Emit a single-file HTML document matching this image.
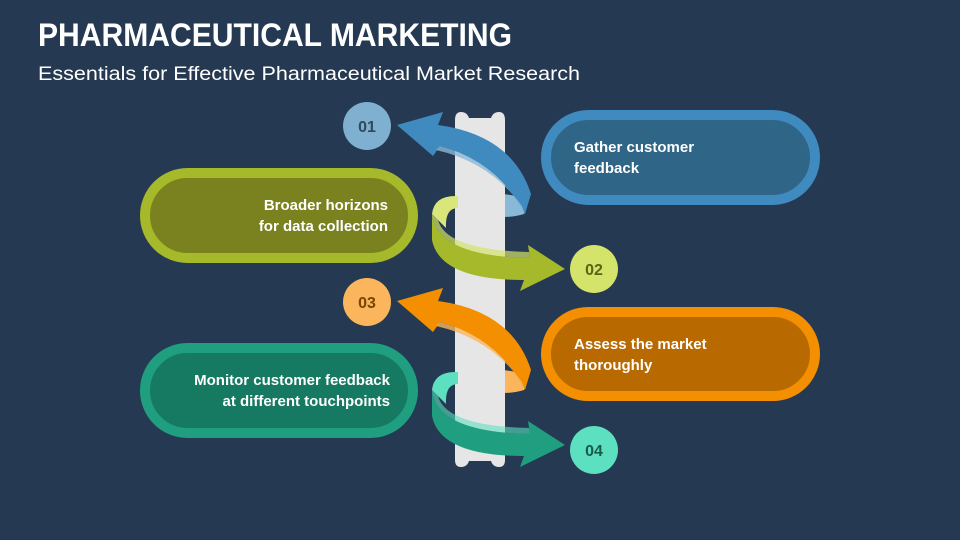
<!DOCTYPE html>
<html><head><meta charset="utf-8"><style>
html,body{margin:0;padding:0;background:#253a52;}
svg{display:block}
text{font-family:"Liberation Sans",sans-serif;}
</style></head><body>
<svg width="960" height="540" viewBox="0 0 960 540">
<rect width="960" height="540" fill="#253a52"/>
<text x="38" y="46" font-size="32" font-weight="bold" fill="#fff" textLength="474" lengthAdjust="spacingAndGlyphs">PHARMACEUTICAL MARKETING</text>
<text x="38" y="80" font-size="19" fill="#fff" textLength="542" lengthAdjust="spacingAndGlyphs">Essentials for Effective Pharmaceutical Market Research</text>

<path d="M480,194 Q510,192 528,200 L524,214 Q505,220 480,214 Z" fill="#8ab9d8"/>
<path d="M480,370 Q510,368 528,376 L524,390 Q505,396 480,390 Z" fill="#fbb55c"/>

<path d="M455,120 Q455,112 461,112 Q467,112 469,118 L491,118 Q493,112 499,112 Q505,112 505,120 L505,460 Q505,467 499,467 Q493,467 491,461 L469,461 Q467,467 461,467 Q455,467 455,460 Z" fill="#e6e6e6"/>

<rect x="145" y="173" width="268" height="85" rx="42.5" fill="#7a8220" stroke="#a5b92a" stroke-width="10"/>
<rect x="546" y="115" width="269" height="85" rx="42.5" fill="#2f6688" stroke="#3f8abf" stroke-width="10"/>
<rect x="546" y="312" width="269" height="84" rx="42" fill="#b86a00" stroke="#f38f00" stroke-width="10"/>
<rect x="145" y="348" width="268" height="85" rx="42.5" fill="#167a62" stroke="#1f9e80" stroke-width="10"/>

<g font-size="15" font-weight="bold" fill="#fff">
<text x="388" y="210" text-anchor="end">Broader horizons</text>
<text x="388" y="231" text-anchor="end">for data collection</text>
<text x="574" y="152">Gather customer</text>
<text x="574" y="173">feedback</text>
<text x="574" y="349">Assess the market</text>
<text x="574" y="370">thoroughly</text>
<text x="390" y="385" text-anchor="end">Monitor customer feedback</text>
<text x="390" y="406" text-anchor="end">at different touchpoints</text>
</g>

<path d="M397,125 L443,112 L438,125 Q512,135 531,194 L525,214 Q498,162 440,146 L433,156 Z" fill="#3f8abf"/>
<path d="M440,146 Q498,162 525,214 L522,206 Q490,162 436,150 Z" fill="#8ab9d8" opacity="0.8"/>
<path d="M432,214 Q434,195 458,196 L458,208 Q445,208 446,228 Z" fill="#d9e77a"/>
<path d="M432,214 Q436,256 530,258 L528,245 L565,269 L520,291 L524,280 Q440,280 432,240 Z" fill="#a5b92a"/>
<path d="M432,214 Q436,256 530,258 L529,252 Q446,250 438,220 Z" fill="#d4e36a" opacity="0.7"/>
<path d="M397,301 L443,288 L438,301 Q512,311 531,370 L525,390 Q498,338 440,322 L433,332 Z" fill="#f38f00"/>
<path d="M440,322 Q498,338 525,390 L522,382 Q490,338 436,326 Z" fill="#fbb55c" opacity="0.8"/>
<path d="M432,390 Q434,371 458,372 L458,384 Q445,384 446,404 Z" fill="#5de0c0"/>
<path d="M432,390 Q436,432 530,434 L528,421 L565,445 L520,467 L524,456 Q440,456 432,416 Z" fill="#1f9e80"/>
<path d="M432,390 Q436,432 530,434 L529,428 Q446,426 438,396 Z" fill="#5de0c0" opacity="0.6"/>

<circle cx="367" cy="126" r="24" fill="#7fb0d0"/>
<circle cx="594" cy="269" r="24" fill="#d4e36a"/>
<circle cx="367" cy="302" r="24" fill="#fbb55c"/>
<circle cx="594" cy="450" r="24" fill="#5de0c0"/>
<g font-size="16" font-weight="bold" text-anchor="middle">
<text x="367" y="132" fill="#2e4a60">01</text>
<text x="594" y="275" fill="#5a6316">02</text>
<text x="367" y="308" fill="#7a4500">03</text>
<text x="594" y="456" fill="#1b5a4a">04</text>
</g>
</svg>
</body></html>
